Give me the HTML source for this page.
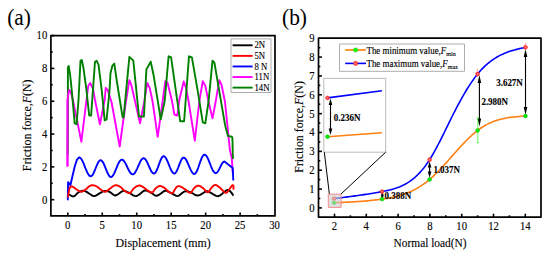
<!DOCTYPE html><html><head><meta charset="utf-8"><style>html,body{margin:0;padding:0;background:#fff;}svg{display:block} text{stroke:#000;stroke-width:0.12px;}</style></head><body>
<svg width="550" height="258" viewBox="0 0 550 258" font-family='"Liberation Serif", serif' stroke-linejoin="round">
<rect width="550" height="258" fill="#fff"/>
<g>
<polyline points="67.80,193.60 68.04,193.78 68.38,194.04 68.85,194.36 69.50,194.70 70.39,195.21 71.48,195.86 72.66,196.35 73.80,196.40 74.91,195.76 76.03,194.66 77.14,193.44 78.20,192.50 79.20,191.89 80.16,191.43 81.09,191.11 82.00,190.90 82.87,190.80 83.69,190.82 84.55,190.98 85.50,191.30 86.60,191.87 87.80,192.66 89.03,193.49 90.20,194.20 91.28,194.86 92.30,195.52 93.35,195.99 94.50,196.10 95.80,195.68 97.21,194.86 98.64,193.91 100.00,193.10 101.27,192.42 102.49,191.74 103.69,191.20 104.90,190.90 106.11,190.89 107.31,191.09 108.53,191.48 109.80,192.00 111.11,192.88 112.45,194.07 113.84,195.10 115.30,195.50 116.94,194.95 118.73,193.76 120.42,192.44 121.80,191.50 122.69,191.05 123.24,190.81 123.75,190.77 124.50,190.90 125.57,191.23 126.81,191.78 128.16,192.43 129.60,193.10 131.12,193.99 132.74,195.06 134.44,195.91 136.20,196.10 138.13,195.25 140.21,193.69 142.18,192.03 143.80,190.90 144.90,190.49 145.66,190.45 146.31,190.64 147.10,190.90 148.08,191.24 149.11,191.72 150.22,192.29 151.40,192.90 152.64,193.74 153.94,194.78 155.35,195.60 156.90,195.80 158.75,194.99 160.84,193.49 162.85,191.92 164.50,190.90 165.60,190.63 166.35,190.76 167.00,191.12 167.80,191.50 168.80,191.91 169.87,192.43 171.00,193.01 172.20,193.60 173.50,194.33 174.90,195.17 176.30,195.85 177.60,196.10 178.79,195.71 179.92,194.87 180.99,193.89 182.00,193.10 182.89,192.50 183.69,191.94 184.51,191.52 185.50,191.30 186.68,191.32 187.98,191.54 189.39,191.91 190.90,192.40 192.53,193.23 194.28,194.34 196.11,195.28 198.00,195.60 200.08,194.93 202.31,193.58 204.43,192.17 206.20,191.30 207.36,191.13 208.10,191.34 208.84,191.81 210.00,192.40 211.75,193.38 213.86,194.71 216.09,195.84 218.20,196.20 220.23,195.35 222.27,193.69 224.18,191.91 225.80,190.70 227.02,190.20 227.94,190.05 228.74,190.23 229.60,190.70 230.64,191.70 231.74,193.15 232.72,194.60 233.40,195.60" fill="none" stroke="#000000" stroke-width="1.9" stroke-linejoin="round" stroke-linecap="butt" />
<polyline points="67.50,166.40 67.60,100.00 68.80,89.80 70.80,91.70 73.30,102.00 81.40,141.70 88.20,86.00 90.20,83.00 93.00,88.80 95.00,100.00 99.90,124.20 104.70,100.00 105.70,87.90 107.60,89.80 111.50,102.00 119.70,146.50 126.00,101.00 129.40,80.10 131.30,85.00 135.00,101.00 140.00,123.30 144.40,101.00 147.20,83.00 149.70,87.90 152.50,101.00 157.70,136.80 162.80,100.00 165.30,81.10 167.60,83.00 172.00,101.00 174.40,114.50 177.30,115.50 179.30,100.00 183.70,81.50 186.00,87.90 188.50,101.00 194.80,140.70 199.50,100.00 202.80,81.10 205.30,85.90 208.60,102.00 212.50,118.40 215.80,101.00 219.30,80.10 221.60,85.00 225.00,102.00 229.90,150.00 231.70,157.90 232.90,174.20" fill="none" stroke="#FF00FF" stroke-width="1.9" stroke-linejoin="round" stroke-linecap="butt" />
<polyline points="67.70,154.50 67.90,96.60 67.90,67.50 68.70,66.00 70.20,75.30 71.80,90.80 74.70,123.30 76.60,124.20 78.50,100.00 80.50,60.70 81.80,60.10 83.40,67.50 86.30,88.80 89.20,115.50 91.10,115.50 95.00,61.70 96.60,60.70 98.50,64.60 101.80,90.80 104.70,120.30 106.60,119.40 109.50,90.80 110.50,73.30 112.40,65.60 114.30,63.60 116.80,81.00 122.60,117.40 123.60,117.40 129.40,56.80 133.30,60.70 139.00,116.50 143.90,116.50 146.40,69.40 150.70,61.70 153.60,75.30 160.80,119.40 164.70,101.00 168.60,56.30 171.10,57.40 180.20,121.30 184.10,121.30 189.00,56.30 191.90,57.40 197.70,90.80 202.80,122.30 205.30,123.30 208.60,101.00 212.50,60.70 214.40,62.70 225.10,125.20 228.00,135.90 231.90,136.80 232.40,138.10 232.90,159.00" fill="none" stroke="#008000" stroke-width="1.9" stroke-linejoin="round" stroke-linecap="butt" />
<polyline points="67.50,166.40 67.60,100.00 68.80,89.80" fill="none" stroke="#FF00FF" stroke-width="1.9" stroke-linejoin="round" stroke-linecap="butt" />
<polyline points="67.80,200.20 68.10,182.20 70.40,185.20 72.50,176.00 75.00,165.50 77.00,159.60 79.10,157.30 80.26,157.76 81.42,159.11 82.58,161.22 83.74,163.86 84.90,166.80 86.06,169.74 87.22,172.38 88.38,174.49 89.54,175.84 90.70,176.30 91.69,175.91 92.68,174.76 93.67,172.98 94.66,170.74 95.65,168.25 96.64,165.76 97.63,163.52 98.62,161.74 99.61,160.59 100.60,160.20 101.63,160.61 102.66,161.80 103.69,163.66 104.72,166.00 105.75,168.60 106.78,171.20 107.81,173.54 108.84,175.40 109.87,176.59 110.90,177.00 111.99,176.57 113.08,175.34 114.17,173.41 115.26,170.99 116.35,168.30 117.44,165.61 118.53,163.19 119.62,161.26 120.71,160.03 121.80,159.60 122.89,159.96 123.98,161.01 125.07,162.65 126.16,164.71 127.25,167.00 128.34,169.29 129.43,171.35 130.52,172.99 131.61,174.04 132.70,174.40 133.79,174.00 134.88,172.85 135.97,171.06 137.06,168.80 138.15,166.30 139.24,163.80 140.33,161.54 141.42,159.75 142.51,158.60 143.60,158.20 144.64,158.58 145.68,159.67 146.72,161.37 147.76,163.52 148.80,165.90 149.84,168.28 150.88,170.43 151.92,172.13 152.96,173.22 154.00,173.60 154.96,173.17 155.92,171.94 156.88,170.01 157.84,167.59 158.80,164.90 159.76,162.21 160.72,159.79 161.68,157.86 162.64,156.63 163.60,156.20 164.67,156.62 165.74,157.85 166.81,159.77 167.88,162.18 168.95,164.85 170.02,167.52 171.09,169.93 172.16,171.85 173.23,173.08 174.30,173.50 175.23,173.11 176.16,171.98 177.09,170.22 178.02,168.01 178.95,165.55 179.88,163.09 180.81,160.88 181.74,159.12 182.67,157.99 183.60,157.60 184.67,158.00 185.74,159.17 186.81,160.98 187.88,163.27 188.95,165.80 190.02,168.33 191.09,170.62 192.16,172.43 193.23,173.60 194.30,174.00 195.32,173.53 196.34,172.15 197.36,170.00 198.38,167.30 199.40,164.30 200.42,161.30 201.44,158.60 202.46,156.45 203.48,155.07 204.50,154.60 205.62,155.06 206.74,156.38 207.86,158.43 208.98,161.03 210.10,163.90 211.22,166.77 212.34,169.37 213.46,171.42 214.58,172.74 215.70,173.20 216.58,172.91 217.46,172.08 218.34,170.79 219.22,169.16 220.10,167.35 220.98,165.54 221.86,163.91 222.74,162.62 223.62,161.79 224.50,161.50 232.70,168.00 233.30,180.50" fill="none" stroke="#0000FF" stroke-width="1.9" stroke-linejoin="round" stroke-linecap="butt" />
<polyline points="67.80,197.40 68.11,195.68 68.55,193.19 69.04,190.62 69.50,188.70 69.89,187.63 70.27,187.02 70.66,186.70 71.10,186.50 71.57,186.40 72.06,186.49 72.62,186.74 73.30,187.10 74.13,187.64 75.07,188.36 76.08,189.12 77.10,189.80 78.14,190.45 79.21,191.13 80.31,191.63 81.40,191.80 82.51,191.51 83.63,190.88 84.74,190.09 85.80,189.30 86.80,188.47 87.77,187.54 88.70,186.67 89.60,186.00 90.45,185.57 91.25,185.31 92.05,185.19 92.90,185.20 93.80,185.33 94.73,185.59 95.70,185.99 96.70,186.50 97.76,187.21 98.87,188.11 99.99,189.02 101.10,189.80 102.18,190.51 103.25,191.20 104.32,191.69 105.40,191.80 106.51,191.37 107.63,190.54 108.74,189.57 109.80,188.70 110.82,187.95 111.81,187.21 112.74,186.53 113.60,186.00 114.31,185.60 114.91,185.31 115.53,185.17 116.30,185.20 117.31,185.45 118.46,185.89 119.64,186.46 120.70,187.10 121.55,187.84 122.28,188.70 123.04,189.58 124.00,190.40 125.27,191.30 126.73,192.26 128.23,192.97 129.60,193.10 130.77,192.36 131.84,190.99 132.89,189.45 134.00,188.20 135.20,187.27 136.45,186.44 137.70,185.82 138.90,185.50 139.95,185.51 140.90,185.79 141.95,186.33 143.30,187.10 145.15,188.41 147.35,190.17 149.55,191.74 151.40,192.50 152.77,192.06 153.87,190.83 154.83,189.35 155.80,188.20 156.78,187.41 157.70,186.73 158.62,186.23 159.60,186.00 160.58,186.04 161.56,186.31 162.66,186.82 164.00,187.60 165.74,189.02 167.77,190.94 169.81,192.62 171.60,193.30 173.05,192.46 174.31,190.60 175.44,188.54 176.50,187.10 177.43,186.45 178.21,186.16 179.02,186.17 180.00,186.40 181.25,186.92 182.66,187.75 184.12,188.70 185.50,189.60 186.79,190.61 188.06,191.76 189.27,192.65 190.40,192.90 191.42,192.19 192.34,190.81 193.24,189.24 194.20,188.00 195.24,187.11 196.31,186.34 197.41,185.80 198.50,185.60 199.58,185.82 200.66,186.37 201.76,187.15 202.90,188.00 204.12,189.18 205.39,190.66 206.64,191.91 207.80,192.40 208.83,191.78 209.77,190.39 210.68,188.78 211.60,187.50 212.52,186.55 213.43,185.70 214.37,185.10 215.40,184.90 216.53,185.23 217.74,185.98 219.01,186.96 220.30,188.00 221.66,189.33 223.08,190.95 224.49,192.32 225.80,192.90 227.03,192.31 228.21,190.93 229.29,189.30 230.20,188.00 230.91,187.10 231.46,186.31 231.90,185.70 232.30,185.30 232.67,185.12 232.98,185.14 233.23,185.37 233.40,185.80 233.48,186.61 233.47,187.73 233.43,188.84 233.40,189.60" fill="none" stroke="#FF0000" stroke-width="1.9" stroke-linejoin="round" stroke-linecap="butt" />
</g>
<rect x="50.9" y="35.6" width="224.1" height="180.3" fill="none" stroke="#000" stroke-width="1.7"/>
<line x1="50.9" y1="199.70" x2="54.3" y2="199.70" stroke="#000" stroke-width="1.6"/>
<text x="50.86" y="203.60" transform="scale(0.93,1)" font-size="11.5" text-anchor="end" font-weight="normal" font-style="normal" fill="#000" >0</text>
<line x1="50.9" y1="183.29" x2="52.699999999999996" y2="183.29" stroke="#000" stroke-width="1.6"/>
<line x1="50.9" y1="166.88" x2="54.3" y2="166.88" stroke="#000" stroke-width="1.6"/>
<text x="50.86" y="170.78" transform="scale(0.93,1)" font-size="11.5" text-anchor="end" font-weight="normal" font-style="normal" fill="#000" >2</text>
<line x1="50.9" y1="150.47" x2="52.699999999999996" y2="150.47" stroke="#000" stroke-width="1.6"/>
<line x1="50.9" y1="134.06" x2="54.3" y2="134.06" stroke="#000" stroke-width="1.6"/>
<text x="50.86" y="137.96" transform="scale(0.93,1)" font-size="11.5" text-anchor="end" font-weight="normal" font-style="normal" fill="#000" >4</text>
<line x1="50.9" y1="117.65" x2="52.699999999999996" y2="117.65" stroke="#000" stroke-width="1.6"/>
<line x1="50.9" y1="101.24" x2="54.3" y2="101.24" stroke="#000" stroke-width="1.6"/>
<text x="50.86" y="105.14" transform="scale(0.93,1)" font-size="11.5" text-anchor="end" font-weight="normal" font-style="normal" fill="#000" >6</text>
<line x1="50.9" y1="84.83" x2="52.699999999999996" y2="84.83" stroke="#000" stroke-width="1.6"/>
<line x1="50.9" y1="68.42" x2="54.3" y2="68.42" stroke="#000" stroke-width="1.6"/>
<text x="50.86" y="72.32" transform="scale(0.93,1)" font-size="11.5" text-anchor="end" font-weight="normal" font-style="normal" fill="#000" >8</text>
<line x1="50.9" y1="52.01" x2="52.699999999999996" y2="52.01" stroke="#000" stroke-width="1.6"/>
<line x1="50.9" y1="35.60" x2="54.3" y2="35.60" stroke="#000" stroke-width="1.6"/>
<text x="50.86" y="39.50" transform="scale(0.93,1)" font-size="11.5" text-anchor="end" font-weight="normal" font-style="normal" fill="#000" >10</text>
<line x1="67.80" y1="215.9" x2="67.80" y2="212.5" stroke="#000" stroke-width="1.6"/>
<line x1="85.03" y1="215.9" x2="85.03" y2="214.1" stroke="#000" stroke-width="1.6"/>
<line x1="102.26" y1="215.9" x2="102.26" y2="212.5" stroke="#000" stroke-width="1.6"/>
<line x1="119.50" y1="215.9" x2="119.50" y2="214.1" stroke="#000" stroke-width="1.6"/>
<line x1="136.73" y1="215.9" x2="136.73" y2="212.5" stroke="#000" stroke-width="1.6"/>
<line x1="153.96" y1="215.9" x2="153.96" y2="214.1" stroke="#000" stroke-width="1.6"/>
<line x1="171.19" y1="215.9" x2="171.19" y2="212.5" stroke="#000" stroke-width="1.6"/>
<line x1="188.43" y1="215.9" x2="188.43" y2="214.1" stroke="#000" stroke-width="1.6"/>
<line x1="205.66" y1="215.9" x2="205.66" y2="212.5" stroke="#000" stroke-width="1.6"/>
<line x1="222.89" y1="215.9" x2="222.89" y2="214.1" stroke="#000" stroke-width="1.6"/>
<line x1="240.12" y1="215.9" x2="240.12" y2="212.5" stroke="#000" stroke-width="1.6"/>
<line x1="257.36" y1="215.9" x2="257.36" y2="214.1" stroke="#000" stroke-width="1.6"/>
<text x="72.90" y="228.60" transform="scale(0.93,1)" font-size="11.5" text-anchor="middle" font-weight="normal" font-style="normal" fill="#000" >0</text>
<text x="109.96" y="228.60" transform="scale(0.93,1)" font-size="11.5" text-anchor="middle" font-weight="normal" font-style="normal" fill="#000" >5</text>
<text x="147.02" y="228.60" transform="scale(0.93,1)" font-size="11.5" text-anchor="middle" font-weight="normal" font-style="normal" fill="#000" >10</text>
<text x="184.08" y="228.60" transform="scale(0.93,1)" font-size="11.5" text-anchor="middle" font-weight="normal" font-style="normal" fill="#000" >15</text>
<text x="221.14" y="228.60" transform="scale(0.93,1)" font-size="11.5" text-anchor="middle" font-weight="normal" font-style="normal" fill="#000" >20</text>
<text x="258.20" y="228.60" transform="scale(0.93,1)" font-size="11.5" text-anchor="middle" font-weight="normal" font-style="normal" fill="#000" >25</text>
<text x="295.26" y="228.60" transform="scale(0.93,1)" font-size="11.5" text-anchor="middle" font-weight="normal" font-style="normal" fill="#000" >30</text>
<text x="177.28" y="247.20" transform="scale(0.92,1)" font-size="13" text-anchor="middle" font-weight="normal" font-style="normal" fill="#000" >Displacement (mm)</text>
<text transform="translate(31,125.3) rotate(-90) scale(0.915,1)" font-size="13" text-anchor="middle" fill="#000">Friction force,<tspan font-style="italic">F</tspan>(N)</text>
<text x="20.54" y="24.60" transform="scale(0.93,1)" font-size="23" text-anchor="middle" font-weight="normal" font-style="normal" fill="#000" style="stroke-width:0.05px">(a)</text>
<rect x="231" y="38.9" width="40" height="53.6" fill="#fff" stroke="#999" stroke-width="0.8"/>
<line x1="232.6" y1="45.30" x2="252.6" y2="45.30" stroke="#000" stroke-width="1.9"/>
<text x="282.78" y="48.50" transform="scale(0.9,1)" font-size="9.7" text-anchor="start" font-weight="normal" font-style="normal" fill="#000" >2N</text>
<line x1="232.6" y1="55.88" x2="252.6" y2="55.88" stroke="#FF0000" stroke-width="1.9"/>
<text x="282.78" y="59.08" transform="scale(0.9,1)" font-size="9.7" text-anchor="start" font-weight="normal" font-style="normal" fill="#000" >5N</text>
<line x1="232.6" y1="66.46" x2="252.6" y2="66.46" stroke="#0000FF" stroke-width="1.9"/>
<text x="282.78" y="69.66" transform="scale(0.9,1)" font-size="9.7" text-anchor="start" font-weight="normal" font-style="normal" fill="#000" >8 N</text>
<line x1="232.6" y1="77.04" x2="252.6" y2="77.04" stroke="#FF00FF" stroke-width="1.9"/>
<text x="282.78" y="80.24" transform="scale(0.9,1)" font-size="9.7" text-anchor="start" font-weight="normal" font-style="normal" fill="#000" >11N</text>
<line x1="232.6" y1="87.62" x2="252.6" y2="87.62" stroke="#008000" stroke-width="1.9"/>
<text x="282.78" y="90.82" transform="scale(0.9,1)" font-size="9.7" text-anchor="start" font-weight="normal" font-style="normal" fill="#000" >14N</text>
<rect x="318.5" y="38.1" width="222.5" height="179.0" fill="none" stroke="#000" stroke-width="1.7"/>
<line x1="318.5" y1="207.90" x2="321.9" y2="207.90" stroke="#000" stroke-width="1.6"/>
<text x="338.17" y="211.80" transform="scale(0.93,1)" font-size="11.5" text-anchor="end" font-weight="normal" font-style="normal" fill="#000" >0</text>
<line x1="318.5" y1="198.47" x2="320.3" y2="198.47" stroke="#000" stroke-width="1.6"/>
<line x1="318.5" y1="189.05" x2="321.9" y2="189.05" stroke="#000" stroke-width="1.6"/>
<text x="338.17" y="192.95" transform="scale(0.93,1)" font-size="11.5" text-anchor="end" font-weight="normal" font-style="normal" fill="#000" >1</text>
<line x1="318.5" y1="179.62" x2="320.3" y2="179.62" stroke="#000" stroke-width="1.6"/>
<line x1="318.5" y1="170.20" x2="321.9" y2="170.20" stroke="#000" stroke-width="1.6"/>
<text x="338.17" y="174.10" transform="scale(0.93,1)" font-size="11.5" text-anchor="end" font-weight="normal" font-style="normal" fill="#000" >2</text>
<line x1="318.5" y1="160.78" x2="320.3" y2="160.78" stroke="#000" stroke-width="1.6"/>
<line x1="318.5" y1="151.35" x2="321.9" y2="151.35" stroke="#000" stroke-width="1.6"/>
<text x="338.17" y="155.25" transform="scale(0.93,1)" font-size="11.5" text-anchor="end" font-weight="normal" font-style="normal" fill="#000" >3</text>
<line x1="318.5" y1="141.93" x2="320.3" y2="141.93" stroke="#000" stroke-width="1.6"/>
<line x1="318.5" y1="132.50" x2="321.9" y2="132.50" stroke="#000" stroke-width="1.6"/>
<text x="338.17" y="136.40" transform="scale(0.93,1)" font-size="11.5" text-anchor="end" font-weight="normal" font-style="normal" fill="#000" >4</text>
<line x1="318.5" y1="123.08" x2="320.3" y2="123.08" stroke="#000" stroke-width="1.6"/>
<line x1="318.5" y1="113.65" x2="321.9" y2="113.65" stroke="#000" stroke-width="1.6"/>
<text x="338.17" y="117.55" transform="scale(0.93,1)" font-size="11.5" text-anchor="end" font-weight="normal" font-style="normal" fill="#000" >5</text>
<line x1="318.5" y1="104.22" x2="320.3" y2="104.22" stroke="#000" stroke-width="1.6"/>
<line x1="318.5" y1="94.80" x2="321.9" y2="94.80" stroke="#000" stroke-width="1.6"/>
<text x="338.17" y="98.70" transform="scale(0.93,1)" font-size="11.5" text-anchor="end" font-weight="normal" font-style="normal" fill="#000" >6</text>
<line x1="318.5" y1="85.38" x2="320.3" y2="85.38" stroke="#000" stroke-width="1.6"/>
<line x1="318.5" y1="75.95" x2="321.9" y2="75.95" stroke="#000" stroke-width="1.6"/>
<text x="338.17" y="79.85" transform="scale(0.93,1)" font-size="11.5" text-anchor="end" font-weight="normal" font-style="normal" fill="#000" >7</text>
<line x1="318.5" y1="66.53" x2="320.3" y2="66.53" stroke="#000" stroke-width="1.6"/>
<line x1="318.5" y1="57.10" x2="321.9" y2="57.10" stroke="#000" stroke-width="1.6"/>
<text x="338.17" y="61.00" transform="scale(0.93,1)" font-size="11.5" text-anchor="end" font-weight="normal" font-style="normal" fill="#000" >8</text>
<line x1="318.5" y1="47.67" x2="320.3" y2="47.67" stroke="#000" stroke-width="1.6"/>
<text x="338.17" y="42.15" transform="scale(0.93,1)" font-size="11.5" text-anchor="end" font-weight="normal" font-style="normal" fill="#000" >9</text>
<line x1="334.50" y1="217.1" x2="334.50" y2="213.7" stroke="#000" stroke-width="1.6"/>
<text x="359.68" y="229.80" transform="scale(0.93,1)" font-size="11.5" text-anchor="middle" font-weight="normal" font-style="normal" fill="#000" >2</text>
<line x1="350.40" y1="217.1" x2="350.40" y2="215.29999999999998" stroke="#000" stroke-width="1.6"/>
<line x1="366.30" y1="217.1" x2="366.30" y2="213.7" stroke="#000" stroke-width="1.6"/>
<text x="393.87" y="229.80" transform="scale(0.93,1)" font-size="11.5" text-anchor="middle" font-weight="normal" font-style="normal" fill="#000" >4</text>
<line x1="382.20" y1="217.1" x2="382.20" y2="215.29999999999998" stroke="#000" stroke-width="1.6"/>
<line x1="398.10" y1="217.1" x2="398.10" y2="213.7" stroke="#000" stroke-width="1.6"/>
<text x="428.06" y="229.80" transform="scale(0.93,1)" font-size="11.5" text-anchor="middle" font-weight="normal" font-style="normal" fill="#000" >6</text>
<line x1="414.00" y1="217.1" x2="414.00" y2="215.29999999999998" stroke="#000" stroke-width="1.6"/>
<line x1="429.90" y1="217.1" x2="429.90" y2="213.7" stroke="#000" stroke-width="1.6"/>
<text x="462.26" y="229.80" transform="scale(0.93,1)" font-size="11.5" text-anchor="middle" font-weight="normal" font-style="normal" fill="#000" >8</text>
<line x1="445.80" y1="217.1" x2="445.80" y2="215.29999999999998" stroke="#000" stroke-width="1.6"/>
<line x1="461.70" y1="217.1" x2="461.70" y2="213.7" stroke="#000" stroke-width="1.6"/>
<text x="496.45" y="229.80" transform="scale(0.93,1)" font-size="11.5" text-anchor="middle" font-weight="normal" font-style="normal" fill="#000" >10</text>
<line x1="477.60" y1="217.1" x2="477.60" y2="215.29999999999998" stroke="#000" stroke-width="1.6"/>
<line x1="493.50" y1="217.1" x2="493.50" y2="213.7" stroke="#000" stroke-width="1.6"/>
<text x="530.65" y="229.80" transform="scale(0.93,1)" font-size="11.5" text-anchor="middle" font-weight="normal" font-style="normal" fill="#000" >12</text>
<line x1="509.40" y1="217.1" x2="509.40" y2="215.29999999999998" stroke="#000" stroke-width="1.6"/>
<line x1="525.30" y1="217.1" x2="525.30" y2="213.7" stroke="#000" stroke-width="1.6"/>
<text x="564.84" y="229.80" transform="scale(0.93,1)" font-size="11.5" text-anchor="middle" font-weight="normal" font-style="normal" fill="#000" >14</text>
<text x="452.74" y="247.20" transform="scale(0.95,1)" font-size="12" text-anchor="middle" font-weight="normal" font-style="normal" fill="#000" >Normal load(N)</text>
<text transform="translate(302.8,127) rotate(-90) scale(0.915,1)" font-size="13" text-anchor="middle" fill="#000">Friction force,<tspan font-style="italic">F</tspan>(N)</text>
<text x="316.67" y="24.60" transform="scale(0.93,1)" font-size="23" text-anchor="middle" font-weight="normal" font-style="normal" fill="#000" style="stroke-width:0.05px">(b)</text>
<rect x="339.5" y="44" width="125" height="27.3" fill="#fff" stroke="#999" stroke-width="0.8"/>
<line x1="345.2" y1="50" x2="366" y2="50" stroke="#FF8000" stroke-width="1.6"/>
<circle cx="355.6" cy="50" r="2.1" fill="#00FF00" stroke="#22cc22" stroke-width="0.6"/>
<line x1="345.2" y1="63.4" x2="366" y2="63.4" stroke="#0000FF" stroke-width="1.6"/>
<circle cx="355.6" cy="63.4" r="2.1" fill="#FF6666" stroke="#FF0000" stroke-width="0.6"/>
<text x="423.70" y="53.6" transform="scale(0.865,1)" font-size="10.3" fill="#000" style="stroke-width:0.15px">The minimum value,<tspan font-style="italic">F</tspan><tspan font-size="7" dy="2">min</tspan></text>
<text x="423.70" y="67" transform="scale(0.865,1)" font-size="10.3" fill="#000" style="stroke-width:0.15px">The maximum value,<tspan font-style="italic">F</tspan><tspan font-size="7" dy="2">max</tspan></text>
<polyline points="334.00,202.80 335.50,202.73 337.00,202.67 338.50,202.60 340.00,202.53 341.50,202.47 343.00,202.40 344.50,202.32 346.00,202.25 347.50,202.17 349.00,202.10 350.50,202.01 352.00,201.93 353.50,201.84 355.00,201.75 356.50,201.65 358.00,201.55 359.50,201.45 361.00,201.34 362.50,201.22 364.00,201.10 365.50,200.97 367.00,200.84 368.50,200.70 370.00,200.55 371.50,200.40 373.00,200.24 374.50,200.07 376.00,199.89 377.50,199.71 379.00,199.51 380.50,199.31 382.00,199.10 383.50,198.88 385.00,198.65 386.50,198.40 388.00,198.15 389.50,197.87 391.00,197.58 392.50,197.27 394.00,196.94 395.50,196.59 397.00,196.22 398.50,195.82 400.00,195.40 401.50,194.95 403.00,194.47 404.50,193.96 406.00,193.42 407.50,192.84 409.00,192.23 410.50,191.58 412.00,190.90 413.50,190.17 415.00,189.40 416.50,188.60 418.00,187.74 419.50,186.85 421.00,185.90 422.50,184.91 424.00,183.86 425.50,182.77 427.00,181.62 428.50,180.42 429.60,179.50 431.10,178.20 432.60,176.85 434.10,175.44 435.60,174.00 437.10,172.50 438.60,170.98 440.10,169.41 441.60,167.82 443.10,166.20 444.60,164.56 446.10,162.90 447.60,161.22 449.10,159.53 450.60,157.84 452.10,156.14 453.60,154.44 455.10,152.74 456.60,151.06 458.10,149.38 459.60,147.72 461.10,146.08 462.60,144.46 464.10,142.87 465.60,141.31 467.10,139.79 468.60,138.30 470.10,136.86 471.60,135.46 473.10,134.11 474.60,132.81 476.10,131.58 477.60,130.40 479.10,129.29 480.60,128.24 482.10,127.25 483.60,126.32 485.10,125.45 486.60,124.63 488.10,123.87 489.60,123.16 491.10,122.49 492.60,121.87 494.10,121.30 495.60,120.77 497.10,120.28 498.60,119.83 500.10,119.42 501.60,119.04 503.10,118.69 504.60,118.37 506.10,118.08 507.60,117.82 509.10,117.58 510.60,117.37 512.10,117.17 513.60,117.00 515.10,116.84 516.60,116.69 518.10,116.55 519.60,116.43 521.10,116.31 522.60,116.20 524.10,116.10 525.50,116.00" fill="none" stroke="#FF7F10" stroke-width="1.6" stroke-linejoin="round" stroke-linecap="butt" />
<polyline points="334.00,198.60 335.50,198.41 337.00,198.23 338.50,198.04 340.00,197.85 341.50,197.67 343.00,197.48 344.50,197.29 346.00,197.10 347.50,196.90 349.00,196.71 350.50,196.51 352.00,196.31 353.50,196.11 355.00,195.91 356.50,195.70 358.00,195.49 359.50,195.28 361.00,195.06 362.50,194.85 364.00,194.62 365.50,194.40 367.00,194.17 368.50,193.93 370.00,193.69 371.50,193.45 373.00,193.20 374.50,192.95 376.00,192.69 377.50,192.43 379.00,192.16 380.50,191.88 382.00,191.60 383.50,191.31 385.00,191.01 386.50,190.70 388.00,190.37 389.50,190.03 391.00,189.65 392.50,189.25 394.00,188.81 395.50,188.34 397.00,187.83 398.50,187.28 400.00,186.68 401.50,186.03 403.00,185.32 404.50,184.56 406.00,183.73 407.50,182.84 409.00,181.88 410.50,180.85 412.00,179.74 413.50,178.54 415.00,177.27 416.50,175.91 418.00,174.45 419.50,172.90 421.00,171.25 422.50,169.50 424.00,167.64 425.50,165.67 427.00,163.59 428.50,161.39 429.60,159.70 431.10,157.29 432.60,154.77 434.10,152.14 435.60,149.42 437.10,146.62 438.60,143.75 440.10,140.82 441.60,137.84 443.10,134.82 444.60,131.77 446.10,128.71 447.60,125.64 449.10,122.57 450.60,119.52 452.10,116.49 453.60,113.50 455.10,110.55 456.60,107.66 458.10,104.82 459.60,102.03 461.10,99.30 462.60,96.63 464.10,94.03 465.60,91.49 467.10,89.03 468.60,86.64 470.10,84.32 471.60,82.09 473.10,79.93 474.60,77.87 476.10,75.89 477.60,74.00 479.10,72.21 480.60,70.50 482.10,68.89 483.60,67.36 485.10,65.91 486.60,64.55 488.10,63.26 489.60,62.04 491.10,60.90 492.60,59.82 494.10,58.81 495.60,57.85 497.10,56.96 498.60,56.13 500.10,55.34 501.60,54.61 503.10,53.92 504.60,53.28 506.10,52.68 507.60,52.12 509.10,51.59 510.60,51.10 512.10,50.63 513.60,50.19 515.10,49.78 516.60,49.38 518.10,49.01 519.60,48.64 521.10,48.29 522.60,47.95 524.10,47.61 525.50,47.30" fill="none" stroke="#0000FF" stroke-width="1.6" stroke-linejoin="round" stroke-linecap="butt" />
<rect x="323.8" y="78.4" width="61.9" height="73.8" fill="#fff" stroke="#aaa" stroke-width="0.8"/>
<line x1="327.5" y1="97.9" x2="381.9" y2="90.7" stroke="#0000FF" stroke-width="1.6"/>
<line x1="327.5" y1="136.7" x2="381.9" y2="132.7" stroke="#FF7F10" stroke-width="1.6"/>
<line x1="324.3" y1="152.2" x2="329.4" y2="194.2" stroke="#000" stroke-width="1.0"/>
<line x1="385.7" y1="152.2" x2="340.8" y2="194.2" stroke="#000" stroke-width="1.0"/>
<line x1="330.5" y1="104.6" x2="330.5" y2="128.9" stroke="#000" stroke-width="1.1"/>
<polygon points="330.5,98.6 328.7,105.1 332.3,105.1" fill="#000"/>
<polygon points="330.5,134.9 328.7,128.4 332.3,128.4" fill="#000"/>
<line x1="382.3" y1="195.1" x2="382.3" y2="196.1" stroke="#000" stroke-width="1.1"/>
<polygon points="382.3,192.2 380.8,195.6 383.8,195.6" fill="#000"/>
<polygon points="382.3,199.0 380.8,195.6 383.8,195.6" fill="#000"/>
<line x1="429.6" y1="167.1" x2="429.6" y2="172.0" stroke="#000" stroke-width="1.2"/>
<polygon points="429.6,161.4 427.8,167.6 431.40000000000003,167.6" fill="#000"/>
<polygon points="429.6,177.7 427.8,171.5 431.40000000000003,171.5" fill="#000"/>
<line x1="479.4" y1="82.5" x2="479.4" y2="118.9" stroke="#000" stroke-width="1.1"/>
<polygon points="479.4,75.0 477.59999999999997,83.0 481.2,83.0" fill="#000"/>
<polygon points="479.4,126.4 477.59999999999997,118.4 481.2,118.4" fill="#000"/>
<line x1="525.5" y1="56.4" x2="525.5" y2="107.4" stroke="#000" stroke-width="1.1"/>
<polygon points="525.5,48.9 523.7,56.9 527.3,56.9" fill="#000"/>
<polygon points="525.5,114.9 523.7,106.9 527.3,106.9" fill="#000"/>
<line x1="477.8" y1="117.8" x2="477.8" y2="142.6" stroke="#00FF00" stroke-width="0.6"/>
<line x1="476.6" y1="117.8" x2="479.0" y2="117.8" stroke="#00FF00" stroke-width="0.6"/>
<line x1="476.6" y1="142.6" x2="479.0" y2="142.6" stroke="#00FF00" stroke-width="0.6"/>
<line x1="477.6" y1="69.8" x2="477.6" y2="77" stroke="#FF9090" stroke-width="0.6"/>
<line x1="476.40000000000003" y1="69.8" x2="478.8" y2="69.8" stroke="#FF9090" stroke-width="0.6"/>
<line x1="525.5" y1="43.8" x2="525.5" y2="50.5" stroke="#FF9090" stroke-width="0.6"/>
<line x1="524.3" y1="43.8" x2="526.7" y2="43.8" stroke="#FF9090" stroke-width="0.6"/>
<circle cx="334" cy="198.6" r="1.9" fill="#FF4040" stroke="#FF2020" stroke-width="0.6"/>
<circle cx="334" cy="198.6" r="0.7" fill="#FF9898"/>
<circle cx="382" cy="191.6" r="1.9" fill="#FF4040" stroke="#FF2020" stroke-width="0.6"/>
<circle cx="382" cy="191.6" r="0.7" fill="#FF9898"/>
<circle cx="429.6" cy="159.7" r="1.9" fill="#FF4040" stroke="#FF2020" stroke-width="0.6"/>
<circle cx="429.6" cy="159.7" r="0.7" fill="#FF9898"/>
<circle cx="477.6" cy="74" r="1.9" fill="#FF4040" stroke="#FF2020" stroke-width="0.6"/>
<circle cx="477.6" cy="74" r="0.7" fill="#FF9898"/>
<circle cx="525.5" cy="47.3" r="1.9" fill="#FF4040" stroke="#FF2020" stroke-width="0.6"/>
<circle cx="525.5" cy="47.3" r="0.7" fill="#FF9898"/>
<circle cx="334" cy="202.8" r="1.9" fill="#00F000" stroke="#10C010" stroke-width="0.6"/>
<circle cx="382" cy="199.1" r="1.9" fill="#00F000" stroke="#10C010" stroke-width="0.6"/>
<circle cx="429.6" cy="179.5" r="1.9" fill="#00F000" stroke="#10C010" stroke-width="0.6"/>
<circle cx="477.6" cy="130.4" r="1.9" fill="#00F000" stroke="#10C010" stroke-width="0.6"/>
<circle cx="525.5" cy="116" r="1.9" fill="#00F000" stroke="#10C010" stroke-width="0.6"/>
<circle cx="327.5" cy="97.9" r="1.9" fill="#FF4040" stroke="#FF2020" stroke-width="0.6"/>
<circle cx="327.5" cy="97.9" r="0.7" fill="#FF9898"/>
<circle cx="327.5" cy="136.7" r="1.9" fill="#00F000" stroke="#10C010" stroke-width="0.6"/>
<rect x="328.3" y="194.2" width="12.8" height="13.2" fill="#cccccc" fill-opacity="0.6" stroke="#F08080" stroke-width="0.9"/>
<text x="379.32" y="121.00" transform="scale(0.88,1)" font-size="10.2" font-weight="bold" fill="#000">0.236N</text>
<text x="436.93" y="198.90" transform="scale(0.88,1)" font-size="10.2" font-weight="bold" fill="#000">0.388N</text>
<text x="492.50" y="172.60" transform="scale(0.88,1)" font-size="10.2" font-weight="bold" fill="#000">1.037N</text>
<text x="547.05" y="104.60" transform="scale(0.88,1)" font-size="10.2" font-weight="bold" fill="#000">2.980N</text>
<text x="563.86" y="86.00" transform="scale(0.88,1)" font-size="10.2" font-weight="bold" fill="#000">3.627N</text>
</svg></body></html>
